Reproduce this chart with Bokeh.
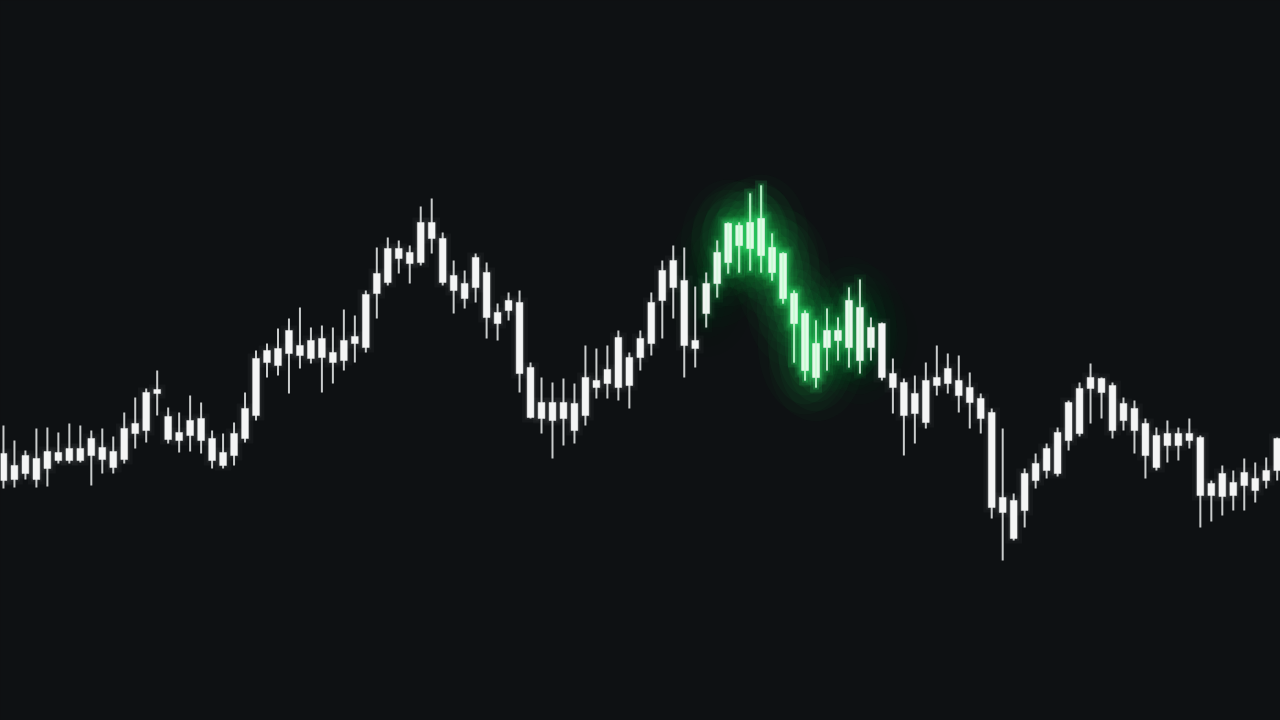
from bokeh.plotting import figure
from bokeh.models import Range1d
from bokeh.embed import file_html
from bokeh.resources import INLINE

# ---- data (price units) ----
idx = list(range(117))

high = [29.5, 28.0, 27.0, 29.2, 29.3, 28.8, 29.7, 29.5, 29.0, 29.2,
        28.4, 30.8, 32.3, 33.2, 35.0, 31.3, 30.8, 32.5, 31.8, 29.0,
        28.7, 29.8, 32.8, 37.0, 37.7, 39.2, 40.2, 41.3, 39.3, 39.5,
        39.3, 41.1, 40.5, 43.0, 47.3, 48.3, 48.0, 47.5, 51.4, 52.2,
        48.8, 46.0, 45.0, 46.7, 45.8, 41.7, 42.8, 43.0, 35.8, 34.3,
        33.8, 34.2, 33.7, 37.5, 37.2, 37.5, 39.0, 36.8, 39.0, 42.8,
        46.0, 47.5, 47.3, 43.4, 44.8, 48.0, 49.8, 49.8, 52.7, 53.5,
        48.7, 46.8, 43.0, 41.0, 40.0, 41.2, 40.3, 43.3, 44.1, 40.3,
        39.8, 36.2, 34.2, 34.5, 35.8, 37.5, 36.7, 36.5, 34.8, 32.7,
        31.2, 29.2, 22.7, 25.2, 26.7, 27.7, 29.3, 32.0, 33.8, 35.7,
        34.3, 33.8, 32.3, 32.0, 30.2, 29.3, 30.0, 29.3, 30.2, 28.5,
        24.0, 25.5, 25.0, 26.2, 25.8, 26.3, 28.3]

low = [23.2, 23.3, 24.1, 23.3, 23.4, 25.7, 25.7, 25.8, 23.5, 24.7,
       24.7, 25.7, 27.2, 27.8, 30.5, 27.7, 26.8, 26.9, 26.7, 25.2,
       25.2, 25.5, 27.8, 30.0, 34.3, 34.5, 32.7, 35.2, 35.7, 32.8,
       33.7, 35.0, 35.8, 36.8, 40.2, 43.5, 44.7, 43.7, 45.5, 46.7,
       43.5, 40.7, 41.2, 41.8, 38.2, 38.0, 40.0, 32.8, 30.2, 28.7,
       26.2, 27.5, 27.7, 29.5, 32.2, 32.2, 32.0, 31.2, 35.0, 36.5,
       38.2, 40.2, 34.3, 35.3, 39.3, 42.3, 44.7, 44.8, 45.0, 44.8,
       44.0, 41.7, 35.8, 34.0, 33.3, 35.0, 36.0, 35.3, 34.7, 36.0,
       34.0, 30.7, 26.5, 27.7, 29.2, 32.5, 32.7, 30.8, 29.2, 28.7,
       20.2, 16.0, 18.0, 19.3, 23.2, 24.2, 24.4, 27.0, 28.4, 29.7,
       30.2, 28.2, 29.0, 26.7, 24.2, 25.0, 25.8, 26.0, 27.2, 19.3,
       19.9, 20.5, 21.0, 21.0, 21.8, 23.2, 24.0]

open_ = [24.0, 24.1, 24.7, 24.1, 25.2, 26.0, 26.0, 26.0, 26.5, 26.1,
         25.3, 26.1, 28.7, 29.0, 32.7, 30.4, 28.8, 28.5, 28.0, 28.2,
         26.8, 26.5, 28.2, 30.5, 35.8, 35.5, 36.7, 36.5, 36.2, 36.3,
         35.8, 36.0, 37.7, 37.3, 42.7, 43.8, 46.2, 45.7, 45.8, 48.2,
         48.2, 44.5, 43.7, 43.3, 44.8, 40.8, 41.0, 41.8, 35.3, 31.8,
         31.8, 31.8, 31.7, 30.5, 34.0, 33.7, 33.3, 36.3, 36.3, 37.7,
         42.0, 43.3, 44.0, 38.0, 40.7, 43.7, 45.8, 47.5, 47.2, 46.5,
         47.3, 46.7, 42.7, 40.7, 37.7, 37.3, 38.0, 37.3, 36.0, 39.3,
         39.7, 34.7, 33.8, 32.7, 34.0, 33.5, 33.7, 34.0, 33.3, 32.2,
         30.8, 22.3, 22.0, 21.0, 24.0, 25.0, 24.7, 28.0, 28.7, 33.2,
         32.8, 33.5, 31.7, 31.2, 29.7, 28.5, 27.5, 27.5, 28.0, 28.3,
         23.7, 22.4, 23.8, 23.5, 23.0, 24.0, 25.0]

close = [26.7, 25.5, 26.5, 26.2, 26.9, 26.8, 27.2, 27.2, 28.2, 27.3,
         26.9, 29.2, 29.7, 32.8, 33.1, 28.1, 28.0, 30.0, 30.2, 26.0,
         25.5, 28.7, 31.2, 36.2, 37.0, 37.2, 39.0, 37.5, 38.0, 38.2,
         36.8, 38.0, 38.4, 42.6, 44.7, 47.2, 47.2, 46.8, 49.8, 49.8,
         43.8, 43.0, 42.2, 46.3, 40.3, 39.7, 42.0, 34.7, 30.3, 30.2,
         30.0, 30.2, 29.0, 34.3, 33.3, 35.1, 38.3, 33.5, 38.2, 41.8,
         45.0, 46.0, 37.5, 37.2, 43.7, 46.8, 49.7, 49.5, 49.8, 50.2,
         44.8, 42.2, 39.7, 35.0, 34.3, 39.0, 39.0, 42.0, 41.3, 37.3,
         34.3, 33.3, 30.5, 30.7, 29.8, 34.3, 35.2, 32.5, 31.8, 30.2,
         21.3, 20.8, 18.2, 24.7, 25.7, 27.2, 28.8, 31.8, 33.2, 34.3,
         34.2, 29.0, 30.0, 29.0, 26.5, 25.3, 28.7, 28.7, 28.7, 22.5,
         22.5, 24.7, 22.5, 24.8, 24.2, 25.0, 28.2]

# highlighted (glowing) candles and glow strength
glow_idx = [64, 65, 66, 67, 68, 69, 70, 71, 72, 73, 74, 75, 76, 77, 78, 79]
glow_amt = [0.15, 0.45, 0.8, 0.95, 1.0, 1.0, 1.0, 1.0, 1.0, 1.0, 0.9, 0.6, 0.55, 0.55, 0.45, 0.2]

BG = "#0e1113"
W, H = 1280, 720
XPX = 10.98  # px per candle
YPX = 10.0   # px per price unit

p = figure(width=W, height=H, output_backend="svg", toolbar_location=None,
           x_range=Range1d(-0.27, 116.3), y_range=Range1d(0, 72),
           background_fill_color=BG, border_fill_color=BG,
           min_border=0, min_border_left=0, min_border_right=0,
           min_border_top=0, min_border_bottom=0)
p.outline_line_color = None
p.xaxis.visible = False
p.yaxis.visible = False
p.grid.visible = False

body_top = [max(o, c) for o, c in zip(open_, close)]
body_bot = [min(o, c) for o, c in zip(open_, close)]

# soft white bloom for all candles
for pad, a in [(5, 0.03), (2, 0.05)]:
    p.vbar(x=idx, top=[t + pad / YPX for t in body_top],
           bottom=[b - pad / YPX for b in body_bot],
           width=0.62 + 2 * pad / XPX, fill_color="#ffffff", fill_alpha=a, line_color=None)

# green glow
gx = glow_idx
gh = [high[i] for i in glow_idx]
gl = [low[i] for i in glow_idx]
gt = [body_top[i] for i in glow_idx]
gb = [body_bot[i] for i in glow_idx]
gmid = [(t + b) / 2 for t, b in zip(gt, gb)]
for pad, a in [(44, 0.025), (34, 0.035), (25, 0.045), (17, 0.06), (11, 0.07)]:
    p.ellipse(x=gx, y=gmid, width=0.62 + 2 * pad / XPX,
              height=[(t - b) + 2 * pad / YPX for t, b in zip(gt, gb)],
              fill_color="#1fd655", fill_alpha=[a * g for g in glow_amt], line_color=None)
for pad, a in [(7, 0.10), (4, 0.14), (2, 0.18)]:
    p.vbar(x=gx, top=[t + pad / YPX for t in gt], bottom=[b - pad / YPX for b in gb],
           width=0.62 + 2 * pad / XPX, fill_color="#35ee72",
           fill_alpha=[a * g for g in glow_amt], line_color=None)
for pad, a in [(5, 0.12), (2, 0.2)]:
    p.vbar(x=gx, top=[h + pad / YPX for h in gh], bottom=[l - pad / YPX for l in gl],
           width=2 * pad / XPX + 0.18, fill_color="#35ee72",
           fill_alpha=[a * g for g in glow_amt], line_color=None)

# wicks
p.segment(x0=idx, y0=low, x1=idx, y1=high, line_color="#c9cccc", line_width=2)
# bodies
p.vbar(x=idx, top=body_top, bottom=body_bot, width=0.62,
       fill_color="#f4f5f5", line_color="#e6e8e8", line_width=0.5)

# tinted overlay on glowing candles
p.segment(x0=gx, y0=gl, x1=gx, y1=gh, line_color="#a8f5bb", line_width=2,
          line_alpha=[0.8 * g for g in glow_amt])
p.vbar(x=gx, top=gt, bottom=gb, width=0.62, fill_color="#d2ffdc",
       fill_alpha=[0.6 * g for g in glow_amt], line_color=None)

html = file_html(p, INLINE)
html = html.replace("<head>", "<head><style>html,body{margin:0;padding:0;background:%s;overflow:hidden;}</style>" % BG, 1)
open("out.html", "w").write(html)
